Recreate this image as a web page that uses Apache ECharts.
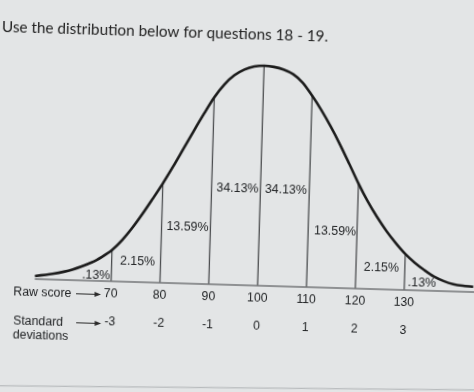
<!DOCTYPE html>
<html><head><meta charset="utf-8">
<script src="https://cdn.jsdelivr.net/npm/echarts@6/dist/echarts.min.js"></script>
<style>
html,body{margin:0;padding:0;width:474px;height:392px;overflow:hidden;background:#e3e5e6;}
#c{position:absolute;left:-43px;top:-44px;width:560px;height:480px;transform:rotate(1.7deg);}
</style></head><body><div id="c"></div>
<script>
// ---- data ----
const titleText = 'Use the distribution below for questions 18 - 19.';
const curveX = [54.4, 58, 62, 66, 68, 70, 72, 74, 76, 78, 80, 82, 84, 86, 88, 90, 92, 94, 96, 98, 100,
                102, 104, 106, 108, 110, 112, 114, 116, 118, 120, 122, 124, 126, 128, 130, 132, 134, 136, 138, 140, 142, 144.1];
const curveY = [1.4, 2.6, 4.8, 8.4, 11, 14.2, 18.8, 24.5, 31, 38, 45.2, 53, 61.2, 69.4, 77.4, 85, 91, 95.3, 98, 99.5, 100,
                99.6, 98.5, 96.5, 92.8, 87, 80.5, 73.2, 65.2, 56.6, 47.8, 39.8, 32.8, 26.6, 21.2, 16.4, 12.5, 9.3, 6.5, 4.6, 3.3, 2.7, 2.4];
const boundaries = [70, 80, 90, 100, 110, 120, 130];
const rawTicks = ['70', '80', '90', '100', '110', '120', '130'];
const sdTicks = ['-3', '-2', '-1', '0', '1', '2', '3'];
const percentLabels = ['.13%', '2.15%', '13.59%', '34.13%', '34.13%', '13.59%', '2.15%', '.13%'];
const labelX = [66.9, 75.3, 85.3, 95.3, 105.2, 115.5, 125.2, 133.6];
const labelY = [2.3, 9.4, 25.5, 43.8, 43.9, 25.5, 9.9, 3.3];

// ---- chart ----
const X_MIN = 50, X_MAX = 146;
const FONT = '"Liberation Sans", Arial, sans-serif';
const TEXT = '#222426';
const boundaryHeights = boundaries.map(b => curveY[curveX.indexOf(b)]);
const tickAt = (arr, v) => {
  const i = Math.round((v - boundaries[0]) / 10);
  return (i >= 0 && i < arr.length && Math.abs(v - boundaries[i]) < 1e-6) ? arr[i] : '';
};
const axisCommon = {
  type: 'value', min: X_MIN, max: X_MAX, interval: 10, position: 'bottom',
  axisLine: { show: false, onZero: false }, axisTick: { show: false }, splitLine: { show: false },
};
const chart = echarts.init(document.getElementById('c'), null, { renderer: 'canvas' });
chart.setOption({
  animation: false,
  backgroundColor: '#e3e5e6',
  title: {
    text: titleText, left: 40, top: 71, padding: 0,
    textStyle: { fontFamily: 'Lato', fontSize: 15.3, fontWeight: 'normal', color: '#222' }
  },
  grid: { left: 58.9, right: 31.9, top: 109, bottom: 151 },
  xAxis: [
    Object.assign({}, axisCommon, {
      axisLabel: { margin: 6.5, fontSize: 12.2, fontFamily: FONT, color: TEXT,
        showMaxLabel: false, formatter: v => tickAt(rawTicks, v) }
    }),
    Object.assign({}, axisCommon, {
      offset: 28.5,
      axisLabel: { margin: 6.5, fontSize: 12.2, fontFamily: FONT, color: TEXT,
        showMaxLabel: false, formatter: v => tickAt(sdTicks, v) }
    })
  ],
  yAxis: { type: 'value', min: 0, max: 100, show: false },
  series: [
    { // baseline
      type: 'line', xAxisIndex: 0, symbol: 'none', silent: true, clip: false,
      data: [[curveX[0], 0], [X_MAX, 0]],
      lineStyle: { color: '#737577', width: 1.4 }
    },
    { // section dividers
      type: 'bar', xAxisIndex: 0, barWidth: 1.3, silent: true,
      data: boundaries.map((b, i) => [b, boundaryHeights[i]]),
      itemStyle: { color: '#4c4e50' }
    },
    { // the curve
      type: 'line', xAxisIndex: 0, symbol: 'none', smooth: 0.3, clip: false, silent: true,
      data: curveX.map((x, i) => [x, curveY[i]]),
      lineStyle: { color: '#1c1c1c', width: 2.6 }
    },
    { // percentage labels
      type: 'scatter', xAxisIndex: 0, symbolSize: 0, silent: true,
      itemStyle: { opacity: 1, color: TEXT },
      data: percentLabels.map((t, i) => ({ name: t, value: [labelX[i], labelY[i]] })),
      label: { show: true, position: 'inside', formatter: p => p.name, opacity: 1,
        fontSize: 12.4, fontFamily: FONT, color: TEXT }
    }
  ],
  graphic: [
    { type: 'text', x: 59.3, y: 343, style: { text: 'Raw score', fontSize: 12.3, fontFamily: FONT, fill: TEXT, align: 'left', verticalAlign: 'middle' } },
    { type: 'line', shape: { x1: 122, y1: 342.5, x2: 142, y2: 342.5 }, style: { stroke: '#2a2a2a', lineWidth: 1 } },
    { type: 'polygon', shape: { points: [[140.5, 340], [147, 342.5], [140.5, 345]] }, style: { fill: '#2a2a2a' } },
    { type: 'text', x: 60, y: 371.6, style: { text: 'Standard', fontSize: 12.3, fontFamily: FONT, fill: TEXT, align: 'left', verticalAlign: 'middle' } },
    { type: 'text', x: 60, y: 385.8, style: { text: 'deviations', fontSize: 12.3, fontFamily: FONT, fill: TEXT, align: 'left', verticalAlign: 'middle' } },
    { type: 'line', shape: { x1: 123, y1: 371.5, x2: 143, y2: 371.5 }, style: { stroke: '#2a2a2a', lineWidth: 1 } },
    { type: 'polygon', shape: { points: [[141.5, 369], [148, 371.5], [141.5, 374]] }, style: { fill: '#2a2a2a' } },
    { type: 'line', shape: { x1: 40, y1: 436.8, x2: 530, y2: 426.7 }, style: { stroke: '#b9bcbe', lineWidth: 1.2 } }
  ]
});
</script></body></html>
